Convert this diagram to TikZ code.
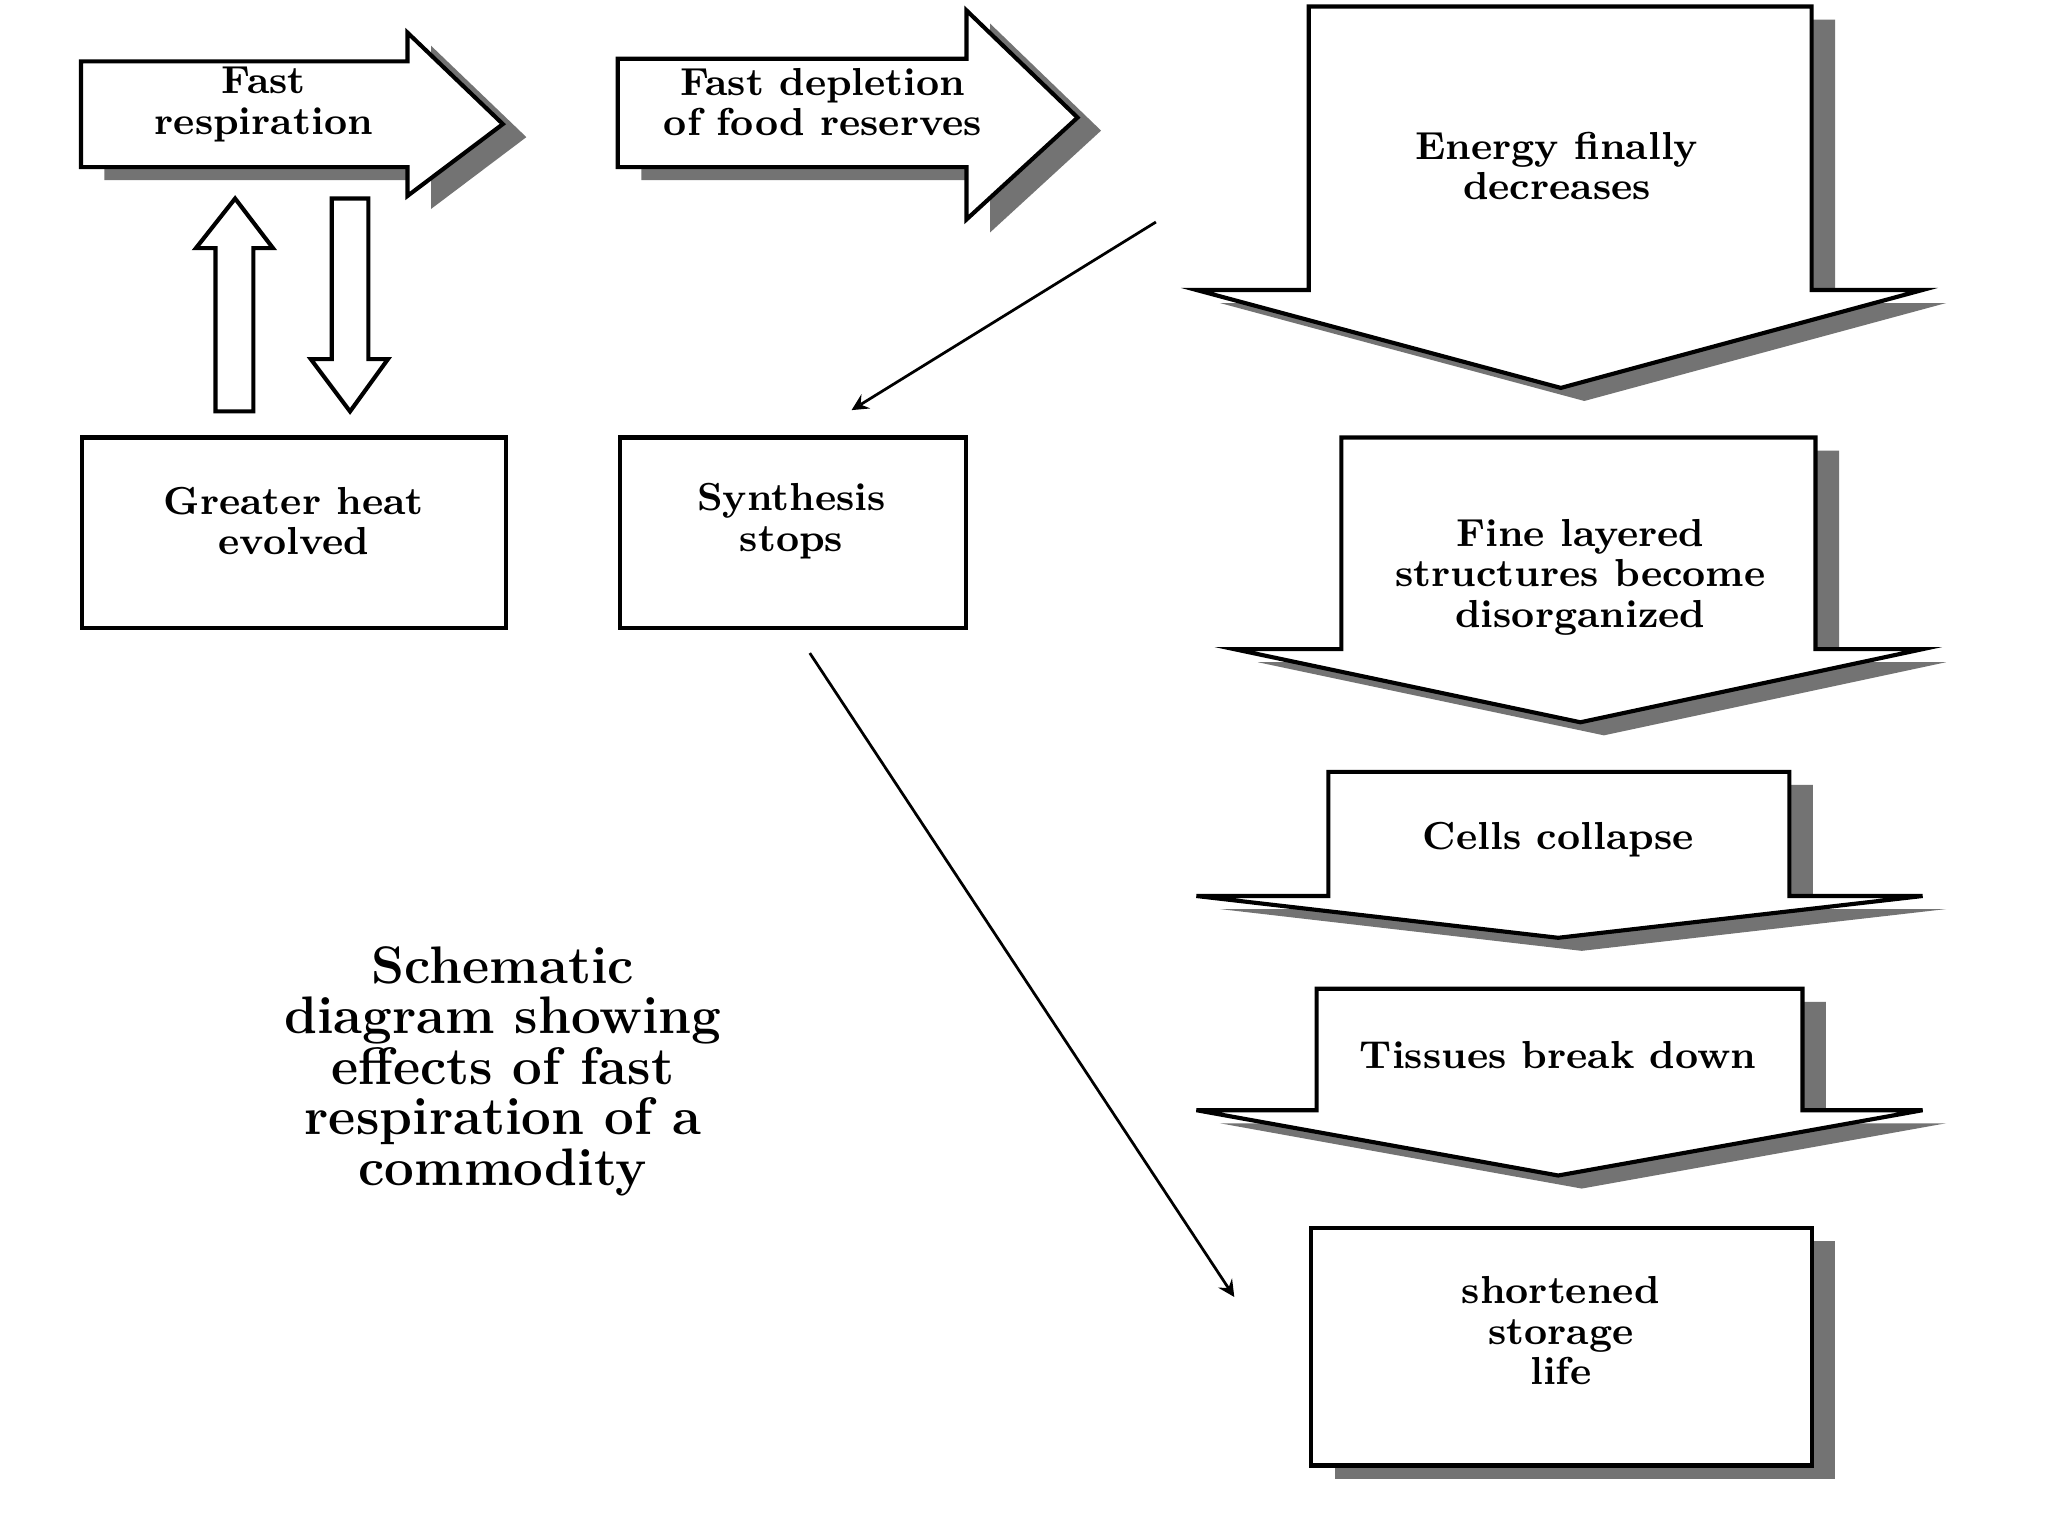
\documentclass[tikz,border=0pt]{standalone}
\begin{document}
\begin{tikzpicture}[x=0.01cm,y=-0.01cm,
  blk/.style={draw=black,fill=white,line width=0.9pt},
  shd/.style={fill=black!55,draw=none},
  txt/.style={font=\fontsize{8.5}{8.8}\selectfont\bfseries,align=center},
  thin/.style={line width=0.6pt,-stealth}]
\useasboundingbox (0,0) rectangle (1568,1176);
\fill[white] (0,0) rectangle (1568,1176);
% shapes with shadow
\foreach \s/\dx/\dy in {shd/18/10,blk/0/0}{
  \begin{scope}[xshift=\dx*0.01cm,yshift=-\dy*0.01cm]
  \path[\s] (62,47) -- (312,47) -- (312,25) -- (385,95) -- (312,150) -- (312,128) -- (62,128) -- cycle;
  \path[\s] (473,45) -- (740,45) -- (740,8) -- (825,90) -- (740,168) -- (740,128) -- (473,128) -- cycle;
  \path[\s] (1002,5) -- (1387,5) -- (1387,222) -- (1472,222) -- (1195,297) -- (916,222) -- (1002,222) -- cycle;
  \path[\s] (1027,335) -- (1390,335) -- (1390,497) -- (1472,497) -- (1210,553) -- (945,497) -- (1027,497) -- cycle;
  \path[\s] (1017,591) -- (1370,591) -- (1370,686) -- (1472,686) -- (1193,718) -- (916,686) -- (1017,686) -- cycle;
  \path[\s] (1008,757) -- (1380,757) -- (1380,850) -- (1472,850) -- (1193,900) -- (916,850) -- (1008,850) -- cycle;
  \path[\s] (1004,940) rectangle (1387,1122);
  \end{scope}}
\path[blk] (165,315) -- (165,190) -- (150,190) -- (180,152) -- (209,190) -- (194,190) -- (194,315) -- cycle;
\path[blk] (254,152) -- (282,152) -- (282,275) -- (297,275) -- (268,315) -- (238,275) -- (254,275) -- cycle;
% text nodes
\node[txt] (fr) at (202,80) {Fast\\respiration};
\node[txt] (fd) at (630,78) {Fast depletion\\of food reserves};
\node[txt] (ef) at (1192,127) {Energy finally\\decreases};
\node[draw,line width=0.9pt,minimum width=3.24cm,minimum height=1.46cm] (gh) at (225,408) {};
\node[txt] at (225,399) {Greater heat\\evolved};
\node[draw,line width=0.9pt,minimum width=2.65cm,minimum height=1.46cm] (ss) at (607,408) {};
\node[txt] at (606,399) {Synthesis\\stops};
\node[txt] (fl) at (1210,442) {Fine layered\\structures become\\disorganized};
\node[txt] (cc) at (1193,643) {Cells collapse};
\node[txt] (tb) at (1193,808) {Tissues break down};
\node[txt] (sl) at (1195,1019) {shortened\\storage\\life};
\node[font=\fontsize{11.5}{11}\selectfont\bfseries,align=center] (title) at (385,820) {Schematic\\diagram showing\\effects of fast\\respiration of a\\commodity};
% thin connectors
\coordinate (a1) at (885,170); \coordinate (a2) at (652,314);
\coordinate (b1) at (620,500); \coordinate (b2) at (945,993);
\draw[thin] (a1) -- (a2);
\draw[thin] (b1) -- (b2);
\end{tikzpicture}
\end{document}
